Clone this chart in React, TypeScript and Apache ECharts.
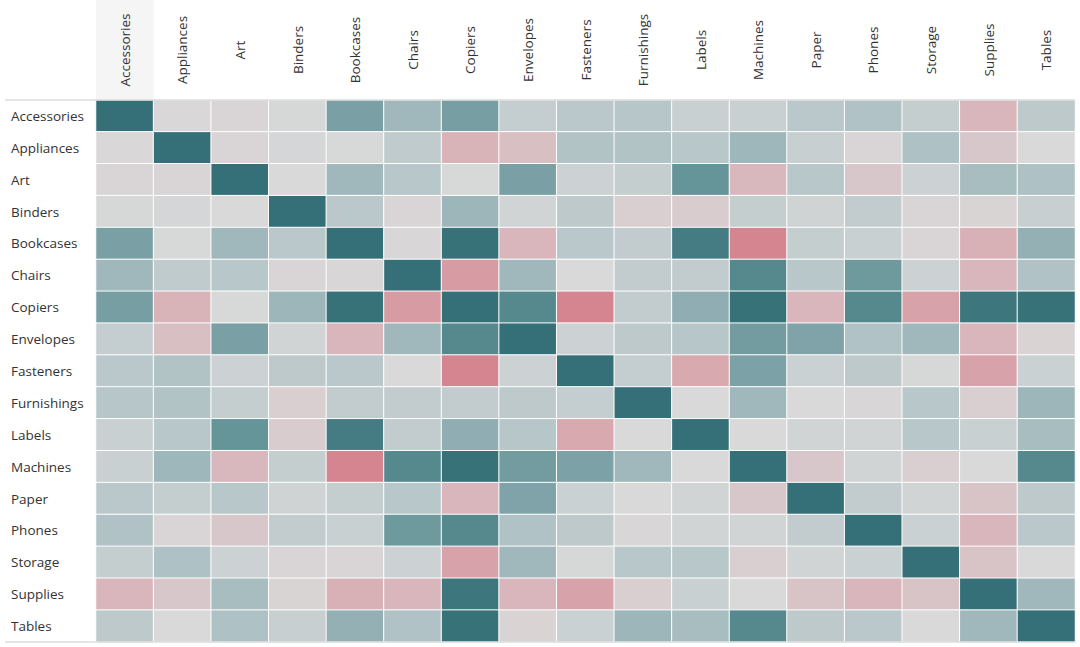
import React, { useEffect, useRef } from "react";
import * as echarts from "echarts";

const categories = [
  "Accessories", "Appliances", "Art", "Binders", "Bookcases", "Chairs", "Copiers",
  "Envelopes", "Fasteners", "Furnishings", "Labels", "Machines", "Paper", "Phones",
  "Storage", "Supplies", "Tables",
];

const accessories = [1, -0.02, -0.04, 0.02, 0.58, 0.35, 0.6, 0.13, 0.18, 0.21, 0.1, 0.1, 0.18, 0.25, 0.12, -0.4, 0.17];
const appliances = [-0.02, 1, -0.04, 0.03, 0.01, 0.15, -0.42, -0.3, 0.24, 0.24, 0.2, 0.36, 0.11, -0.04, 0.26, -0.2, 0.0];
const art = [-0.04, -0.04, 1, 0.0, 0.35, 0.2, 0.01, 0.58, 0.08, 0.12, 0.7, -0.37, 0.2, -0.2, 0.08, 0.3, 0.26];
const binders = [0.02, 0.03, 0.0, 1, 0.18, -0.04, 0.37, 0.05, 0.17, -0.12, -0.15, 0.12, 0.06, 0.14, -0.04, -0.06, 0.11];
const bookcases = [0.58, 0.01, 0.35, 0.18, 1, -0.03, 0.98, -0.4, 0.18, 0.14, 0.9, -0.95, 0.12, 0.1, -0.04, -0.45, 0.42];
const chairs = [0.35, 0.15, 0.2, -0.04, -0.03, 1, -0.7, 0.35, 0.0, 0.14, 0.14, 0.8, 0.2, 0.65, 0.08, -0.4, 0.25];
const copiers = [0.6, -0.42, 0.01, 0.37, 0.98, -0.7, 1, 0.8, -0.95, 0.14, 0.45, 0.98, -0.4, 0.8, -0.63, 0.95, 0.98];
const envelopes = [0.13, -0.3, 0.58, 0.05, -0.4, 0.35, 0.8, 1, 0.08, 0.17, 0.21, 0.62, 0.55, 0.25, 0.35, -0.4, -0.07];
const fasteners = [0.18, 0.24, 0.08, 0.17, 0.18, 0.0, -0.95, 0.08, 1, 0.13, -0.55, 0.57, 0.09, 0.17, 0.02, -0.63, 0.09];
const furnishings = [0.21, 0.24, 0.12, -0.12, 0.14, 0.14, 0.14, 0.17, 0.13, 1, 0.0, 0.35, 0.0, -0.03, 0.2, -0.12, 0.37];
const labels = [0.1, 0.2, 0.7, -0.15, 0.9, 0.14, 0.45, 0.21, -0.55, 0.0, 1, 0.0, 0.05, 0.05, 0.2, 0.1, 0.3];
const machines = [0.1, 0.36, -0.37, 0.12, -0.95, 0.8, 0.98, 0.62, 0.57, 0.35, 0.0, 1, -0.2, 0.05, -0.12, 0.0, 0.8];
const paper = [0.18, 0.12, 0.2, 0.06, 0.12, 0.2, -0.4, 0.55, 0.09, 0.0, 0.05, -0.2, 1, 0.14, 0.05, -0.25, 0.17];
const phones = [0.25, -0.04, -0.2, 0.14, 0.1, 0.65, 0.8, 0.25, 0.17, -0.03, 0.05, 0.05, 0.14, 1, 0.09, -0.4, 0.18];
const storage = [0.12, 0.26, 0.08, -0.04, -0.04, 0.08, -0.63, 0.35, 0.02, 0.2, 0.2, -0.12, 0.05, 0.09, 1, -0.25, 0.0];
const supplies = [-0.4, -0.2, 0.3, -0.06, -0.45, -0.4, 0.95, -0.4, -0.63, -0.12, 0.1, 0.0, -0.25, -0.4, -0.25, 1, 0.35];
const tables = [0.17, 0.0, 0.26, 0.11, 0.42, 0.25, 0.98, -0.07, 0.09, 0.37, 0.3, 0.8, 0.17, 0.18, 0.0, 0.35, 1];

const rows = [
  accessories, appliances, art, binders, bookcases, chairs, copiers, envelopes,
  fasteners, furnishings, labels, machines, paper, phones, storage, supplies, tables,
];

const FONT = "'Open Sans', 'Noto Sans', sans-serif";

export default function App() {
  const ref = useRef<HTMLDivElement>(null);

  useEffect(() => {
    if (!ref.current) return;
    const chart = echarts.init(ref.current, undefined, { renderer: "svg" });
    const data: [number, number, number][] = [];
    rows.forEach((row, y) => {
      row.forEach((v, x) => data.push([x, y, v]));
    });

    const gridLeft = 96;
    const gridRight = 5;
    const gridTop = 100;
    const gridBottom = 5;
    const colW = (1080 - gridLeft - gridRight) / categories.length;

    chart.setOption({
      animation: false,
      backgroundColor: "#ffffff",
      grid: { left: gridLeft, right: gridRight, top: gridTop, bottom: gridBottom },
      xAxis: {
        type: "category",
        position: "top",
        data: categories,
        axisLine: { show: false },
        axisTick: { show: false },
        splitLine: { show: false },
        axisLabel: {
          interval: 0,
          rotate: -90,
          align: "center",
          verticalAlign: "middle",
          margin: 50,
          fontFamily: FONT,
          fontSize: 13.5,
          color: "#333333",
        },
      },
      yAxis: {
        type: "category",
        inverse: true,
        data: categories,
        axisLine: { show: false },
        axisTick: { show: false },
        splitLine: { show: false },
        axisLabel: {
          interval: 0,
          align: "left",
          margin: 85,
          fontFamily: FONT,
          fontSize: 13.5,
          color: "#333333",
        },
      },
      visualMap: {
        show: false,
        min: -1,
        max: 1,
        inRange: {
          color: [
            "#d4808c", "#d6979f", "#d8adb3", "#d8c3c6", "#d9d9d9",
            "#b0c2c5", "#87a8ad", "#5e9094", "#356f77",
          ],
        },
      },
      graphic: [
        {
          type: "rect",
          z: -10,
          silent: true,
          shape: { x: gridLeft, y: 0, width: colW, height: gridTop },
          style: { fill: "#f5f5f5" },
        },
        {
          type: "line",
          z: 10,
          silent: true,
          shape: { x1: 5, y1: gridTop, x2: 1075, y2: gridTop },
          style: { stroke: "#dcdcdc", lineWidth: 1.5 },
        },
        {
          type: "line",
          z: 10,
          silent: true,
          shape: { x1: 5, y1: 647 - gridBottom, x2: 1075, y2: 647 - gridBottom },
          style: { stroke: "#dcdcdc", lineWidth: 1.5 },
        },
      ],
      series: [
        {
          type: "heatmap",
          data,
          label: { show: false },
          itemStyle: { borderColor: "#ffffff", borderWidth: 1 },
          emphasis: { disabled: true },
        },
      ],
    });

    return () => chart.dispose();
  }, []);

  return (
    <div
      ref={ref}
      style={{ position: "fixed", left: 0, top: 0, width: 1080, height: 647 }}
    />
  );
}
